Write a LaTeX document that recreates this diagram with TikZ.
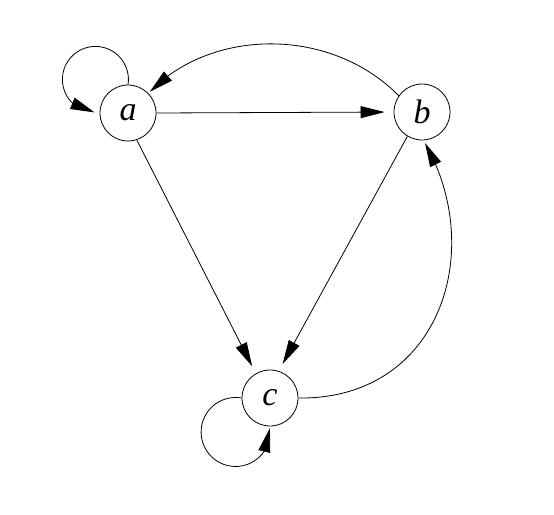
\documentclass[tikz,border=0pt]{standalone}
\usepackage{fontspec}
\setmainfont{Liberation Serif}
\usetikzlibrary{arrows.meta,bending}
\begin{document}
\begin{tikzpicture}[x=1pt,y=-1pt,
  state/.style={circle,draw,line width=0.8pt,minimum size=56pt,inner sep=0pt,font=\fontsize{34}{40}\selectfont\itshape},
  edge/.style={line width=0.8pt,-{Triangle[length=24pt,width=12pt,flex]}}]
\useasboundingbox (0,0) rectangle (554,514);
\node[state] (a) at (128,113) {a};
\node[state] (b) at (422,112) {b};
\node[state] (c) at (270,398) {c};
\draw[edge, shorten >=9pt] (a.east) -- (b.west);
\draw[edge, shorten >=8pt] (a.-72) -- (c.120);
\draw[edge, shorten >=8pt] (b.-121) -- (c.72);
\draw[edge, shorten >=2pt] (b.145) .. controls (330,26) and (210,28) .. (a.44);
\draw[edge, shorten >=3pt] (c.east) .. controls (440,400) and (488,250) .. (b.-87);
\draw[edge, shorten >=2pt] (a.90) arc[start angle=9, end angle=-272, radius=33];
\draw[edge, shorten >=1pt] (c.180) arc[start angle=-80, end angle=-368, radius=34.5];
\end{tikzpicture}
\end{document}
